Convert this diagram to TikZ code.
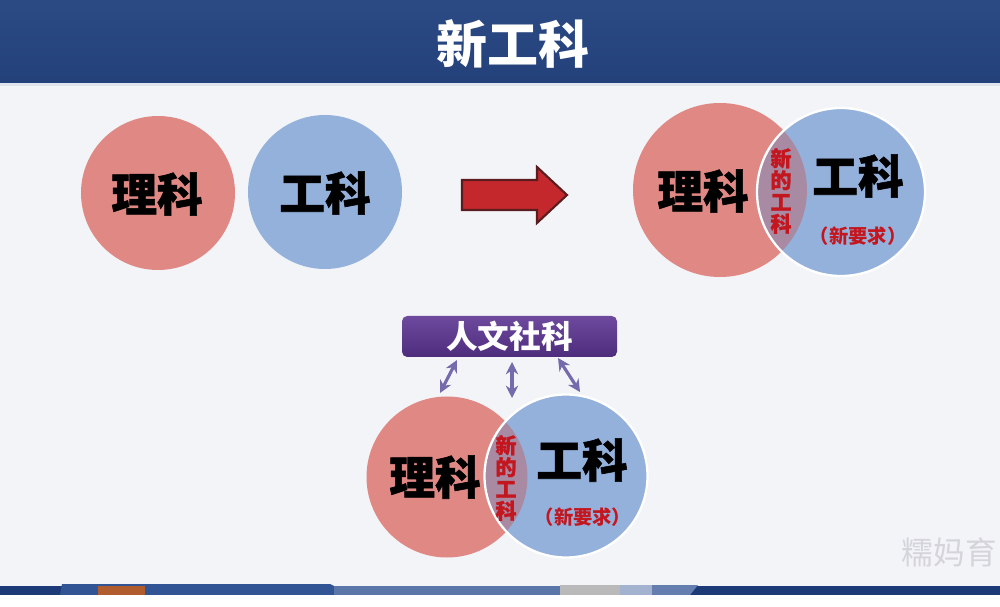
\documentclass[tikz,border=0pt]{standalone}
\usepackage{fontspec}
\newfontfamily\cjk{Noto Sans CJK SC}
\newfontfamily\cjkheavy{Noto Sans CJK SC}[BoldFeatures={FakeBold=1.2}]
\usetikzlibrary{arrows.meta,shadings}
\definecolor{bannerblue}{RGB}{37,68,128}
\definecolor{bgwhite}{RGB}{243,244,248}
\definecolor{lkred}{RGB}{224,136,132}
\definecolor{gkblue}{RGB}{148,177,220}
\definecolor{overlapc}{RGB}{168,138,163}
\definecolor{txtred}{RGB}{196,22,30}
\definecolor{arrred}{RGB}{196,40,44}
\definecolor{arrdark}{RGB}{90,28,30}
\definecolor{boxpurple}{RGB}{78,44,124}
\definecolor{boxpurplelt}{RGB}{110,74,158}
\definecolor{linkpurple}{RGB}{116,106,172}
\definecolor{stripblue}{RGB}{28,58,120}
\definecolor{stripmid}{RGB}{48,84,148}
\definecolor{stripor}{RGB}{176,92,44}
\definecolor{wmgray}{RGB}{212,212,218}
\tikzset{
  bigtxt/.style={font=\cjkheavy\bfseries\fontsize{26}{28}\selectfont, text=black, inner sep=0pt},
  reqtxt/.style={font=\cjk\bfseries\fontsize{11}{12}\selectfont, text=txtred, inner sep=0pt},
  vtxt/.style={font=\cjkheavy\bfseries\fontsize{12}{12.4}\selectfont, text=txtred, align=center, inner sep=0pt},
  link/.style={draw=linkpurple, line width=1.8pt, {Stealth[length=7pt,width=7pt]}-{Stealth[length=7pt,width=7pt]}}
}
\begin{document}
\begin{tikzpicture}[x=0.02cm,y=-0.02cm]
\useasboundingbox (0,0) rectangle (1000,607);
% background
\fill[bgwhite] (0,0) rectangle (1000,607);
% banner
\shade[top color=bannerblue!97!white, bottom color=bannerblue!95!black] (0,0) rectangle (1000,83);
\fill[white!85!bannerblue] (0,83) rectangle (1000,86);
\node[font=\cjk\bfseries\fontsize{29}{30}\selectfont, text=white, inner sep=0pt] (title) at (513,44) {新工科};

% ---- left pair ----
\fill[lkred] (158,193) circle (77);
\fill[gkblue] (325,192) circle (77);
\node[bigtxt] (lk1) at (157,194) {理科};
\node[bigtxt] (gk1) at (325,193) {工科};

% ---- big arrow ----
\coordinate (a1) at (462,180);
\coordinate (a2) at (537,180);
\coordinate (a3) at (537,167);
\coordinate (a4) at (567,195);
\coordinate (a5) at (537,223);
\coordinate (a6) at (537,210);
\coordinate (a7) at (462,210);
\fill[arrred, draw=arrdark, line width=1.2pt, line join=miter]
  (a1) -- (a2) -- (a3) -- (a4) -- (a5) -- (a6) -- (a7) -- cycle;

% ---- top right venn ----
\fill[lkred] (720,190) circle (87);
\fill[gkblue] (841,192) circle (84);
\begin{scope}
  \clip (720,190) circle (87);
  \fill[overlapc] (841,192) circle (84);
\end{scope}
\draw[white, line width=1.3pt] (841,192) circle (84);
\node[bigtxt] (lk2) at (703,191) {理科};
\node[bigtxt] (gk2) at (858,176) {工科};
\node[reqtxt] (req2) at (858,236) {（新要求）};
\node[vtxt] (new2) at (781,191) {新\\的\\工\\科};

% ---- humanities box ----
\shade[top color=boxpurplelt, bottom color=boxpurple, rounded corners=3pt]
  (402,316) rectangle (617,357);
\node[font=\cjk\bfseries\fontsize{18}{20}\selectfont, text=white, inner sep=0pt,
      minimum width=215*0.02cm, minimum height=41*0.02cm] (hum) at (509.5,336.5) {人文社科};

% ---- bottom venn ----
\fill[lkred] (447,477) circle (80.5);
\fill[gkblue] (566,476) circle (81.5);
\begin{scope}
  \clip (447,477) circle (80.5);
  \fill[overlapc] (566,476) circle (81.5);
\end{scope}
\draw[white, line width=1.3pt] (566,476) circle (81.5);
\node[bigtxt] (lk3) at (435,477) {理科};
\node[bigtxt] (gk3) at (582,460) {工科};
\node[reqtxt] (req3) at (583,517) {（新要求）};
\node[vtxt] (new3) at (506,478) {新\\的\\工\\科};

% links
\coordinate (h1) at (457,360);
\coordinate (c1) at (440,393);
\coordinate (h2) at (512,362);
\coordinate (c2) at (512,398);
\coordinate (h3) at (558,358);
\coordinate (c3) at (580,392);
\draw[link] (h1) -- (c1);
\draw[link] (h2) -- (c2);
\draw[link] (h3) -- (c3);

% ---- bottom strip ----
\fill[stripblue] (0,586) rectangle (1000,595);
\fill[stripmid] (62,584) -- (330,584) -- (334,586) -- (334,595) -- (60,595) -- cycle;
\fill[stripor] (98,586) rectangle (145,595);
\fill[stripmid!80!white] (334,586) rectangle (560,595);
\fill[gray!55!white] (560,585) -- (620,585) -- (620,595) -- (560,595) -- cycle;
\fill[stripmid!45!white] (620,585) rectangle (652,595);
\fill[stripmid!75!white] (652,585) -- (698,585) -- (690,595) -- (652,595) -- cycle;
\fill[white] (0,595) rectangle (1000,607);

% watermark
\node[font=\cjk\fontsize{18}{20}\selectfont, text=wmgray, anchor=east, inner sep=0pt] (wm) at (997,552) {糯妈育};
\end{tikzpicture}
\end{document}
